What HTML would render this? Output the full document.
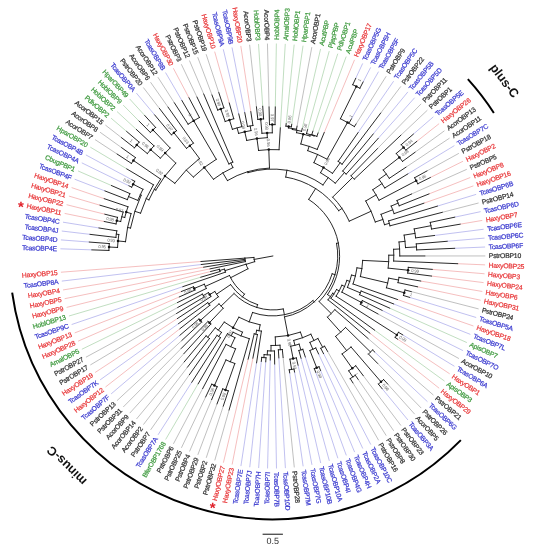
<!DOCTYPE html>
<html><head><meta charset="utf-8"><style>
html,body{margin:0;padding:0;background:#fff;}
svg{display:block;text-rendering:geometricPrecision;font-family:"Liberation Sans",Arial,sans-serif;}
</style></head><body>
<svg width="544" height="550" viewBox="0 0 544 550" font-size="6.8" stroke-width="0.22" letter-spacing="-0.2">
<line x1="91.90" y1="249.87" x2="60.42" y2="248.81" stroke="#9797e6" stroke-width="0.6"/>
<line x1="89.33" y1="242.06" x2="60.91" y2="239.90" stroke="#9797e6" stroke-width="0.6"/>
<line x1="90.08" y1="234.37" x2="61.77" y2="231.02" stroke="#9797e6" stroke-width="0.6"/>
<line x1="99.04" y1="227.99" x2="63.01" y2="222.18" stroke="#9797e6" stroke-width="0.6"/>
<line x1="104.29" y1="221.52" x2="64.61" y2="213.40" stroke="#ef9494" stroke-width="0.6"/>
<line x1="104.92" y1="214.24" x2="66.59" y2="204.70" stroke="#ef9494" stroke-width="0.6"/>
<line x1="100.10" y1="205.25" x2="68.92" y2="196.09" stroke="#ef9494" stroke-width="0.6"/>
<line x1="104.28" y1="198.69" x2="71.62" y2="187.58" stroke="#ef9494" stroke-width="0.6"/>
<line x1="104.97" y1="190.94" x2="74.67" y2="179.20" stroke="#9797e6" stroke-width="0.6"/>
<line x1="111.51" y1="185.56" x2="78.06" y2="170.95" stroke="#97c797" stroke-width="0.6"/>
<line x1="128.99" y1="185.86" x2="81.81" y2="162.85" stroke="#9797e6" stroke-width="0.6"/>
<line x1="132.06" y1="179.89" x2="85.89" y2="154.91" stroke="#9797e6" stroke-width="0.6"/>
<line x1="126.80" y1="168.92" x2="90.29" y2="147.15" stroke="#97c797" stroke-width="0.6"/>
<line x1="117.19" y1="154.10" x2="95.02" y2="139.59" stroke="#959595" stroke-width="0.6"/>
<line x1="121.61" y1="147.66" x2="100.07" y2="132.23" stroke="#959595" stroke-width="0.6"/>
<line x1="121.56" y1="137.71" x2="105.42" y2="125.08" stroke="#959595" stroke-width="0.6"/>
<line x1="126.66" y1="131.47" x2="111.06" y2="118.17" stroke="#97c797" stroke-width="0.6"/>
<line x1="136.42" y1="129.52" x2="116.99" y2="111.50" stroke="#97c797" stroke-width="0.6"/>
<line x1="139.03" y1="121.07" x2="123.19" y2="105.09" stroke="#97c797" stroke-width="0.6"/>
<line x1="144.81" y1="115.57" x2="129.66" y2="98.94" stroke="#97c797" stroke-width="0.6"/>
<line x1="154.67" y1="114.92" x2="136.38" y2="93.07" stroke="#9797e6" stroke-width="0.6"/>
<line x1="159.48" y1="108.50" x2="143.34" y2="87.49" stroke="#959595" stroke-width="0.6"/>
<line x1="168.08" y1="107.15" x2="150.53" y2="82.20" stroke="#959595" stroke-width="0.6"/>
<line x1="174.42" y1="102.88" x2="157.93" y2="77.22" stroke="#959595" stroke-width="0.6"/>
<line x1="181.94" y1="100.61" x2="165.54" y2="72.56" stroke="#9797e6" stroke-width="0.6"/>
<line x1="189.01" y1="97.82" x2="173.33" y2="68.22" stroke="#ef9494" stroke-width="0.6"/>
<line x1="197.02" y1="97.15" x2="181.30" y2="64.21" stroke="#959595" stroke-width="0.6"/>
<line x1="203.75" y1="94.11" x2="189.44" y2="60.54" stroke="#959595" stroke-width="0.6"/>
<line x1="212.02" y1="95.10" x2="197.71" y2="57.21" stroke="#959595" stroke-width="0.6"/>
<line x1="218.83" y1="92.69" x2="206.13" y2="54.23" stroke="#959595" stroke-width="0.6"/>
<line x1="229.29" y1="103.07" x2="214.66" y2="51.61" stroke="#ef9494" stroke-width="0.6"/>
<line x1="238.78" y1="114.02" x2="223.29" y2="49.35" stroke="#9797e6" stroke-width="0.6"/>
<line x1="244.77" y1="112.72" x2="232.01" y2="47.45" stroke="#9797e6" stroke-width="0.6"/>
<line x1="250.81" y1="111.67" x2="240.80" y2="45.92" stroke="#ef9494" stroke-width="0.6"/>
<line x1="256.45" y1="106.89" x2="249.64" y2="44.77" stroke="#959595" stroke-width="0.6"/>
<line x1="262.73" y1="106.34" x2="258.53" y2="43.98" stroke="#97c797" stroke-width="0.6"/>
<line x1="269.05" y1="107.05" x2="267.45" y2="43.57" stroke="#959595" stroke-width="0.6"/>
<line x1="275.30" y1="107.02" x2="276.37" y2="43.53" stroke="#97c797" stroke-width="0.6"/>
<line x1="280.34" y1="127.92" x2="285.28" y2="43.87" stroke="#97c797" stroke-width="0.6"/>
<line x1="286.18" y1="123.67" x2="294.18" y2="44.58" stroke="#97c797" stroke-width="0.6"/>
<line x1="291.72" y1="124.35" x2="303.04" y2="45.66" stroke="#97c797" stroke-width="0.6"/>
<line x1="297.05" y1="126.25" x2="311.84" y2="47.12" stroke="#959595" stroke-width="0.6"/>
<line x1="302.25" y1="128.35" x2="320.57" y2="48.94" stroke="#97c797" stroke-width="0.6"/>
<line x1="307.58" y1="129.70" x2="329.22" y2="51.13" stroke="#97c797" stroke-width="0.6"/>
<line x1="312.85" y1="131.27" x2="337.77" y2="53.68" stroke="#97c797" stroke-width="0.6"/>
<line x1="318.06" y1="133.07" x2="346.21" y2="56.58" stroke="#97c797" stroke-width="0.6"/>
<line x1="324.21" y1="132.58" x2="354.52" y2="59.84" stroke="#ef9494" stroke-width="0.6"/>
<line x1="355.70" y1="78.40" x2="362.68" y2="63.44" stroke="#9797e6" stroke-width="0.6"/>
<line x1="363.08" y1="82.03" x2="370.68" y2="67.39" stroke="#9797e6" stroke-width="0.6"/>
<line x1="351.40" y1="118.94" x2="378.52" y2="71.66" stroke="#9797e6" stroke-width="0.6"/>
<line x1="356.02" y1="124.05" x2="386.16" y2="76.26" stroke="#959595" stroke-width="0.6"/>
<line x1="358.08" y1="132.60" x2="393.61" y2="81.18" stroke="#9797e6" stroke-width="0.6"/>
<line x1="380.65" y1="113.14" x2="400.84" y2="86.41" stroke="#959595" stroke-width="0.6"/>
<line x1="373.21" y1="134.01" x2="407.85" y2="91.93" stroke="#9797e6" stroke-width="0.6"/>
<line x1="378.24" y1="138.33" x2="414.62" y2="97.74" stroke="#9797e6" stroke-width="0.6"/>
<line x1="377.51" y1="148.59" x2="421.13" y2="103.84" stroke="#959595" stroke-width="0.6"/>
<line x1="400.84" y1="135.24" x2="427.39" y2="110.20" stroke="#959595" stroke-width="0.6"/>
<line x1="413.35" y1="134.17" x2="433.38" y2="116.82" stroke="#9797e6" stroke-width="0.6"/>
<line x1="416.78" y1="141.43" x2="439.08" y2="123.68" stroke="#ef9494" stroke-width="0.6"/>
<line x1="415.00" y1="152.29" x2="444.48" y2="130.78" stroke="#959595" stroke-width="0.6"/>
<line x1="405.91" y1="167.22" x2="449.59" y2="138.10" stroke="#959595" stroke-width="0.6"/>
<line x1="407.81" y1="173.93" x2="454.38" y2="145.62" stroke="#9797e6" stroke-width="0.6"/>
<line x1="426.90" y1="170.97" x2="458.86" y2="153.34" stroke="#959595" stroke-width="0.6"/>
<line x1="430.33" y1="177.52" x2="463.00" y2="161.24" stroke="#ef9494" stroke-width="0.6"/>
<line x1="411.58" y1="193.99" x2="466.81" y2="169.31" stroke="#959595" stroke-width="0.6"/>
<line x1="428.93" y1="193.96" x2="470.28" y2="177.53" stroke="#ef9494" stroke-width="0.6"/>
<line x1="423.84" y1="203.21" x2="473.40" y2="185.89" stroke="#ef9494" stroke-width="0.6"/>
<line x1="437.41" y1="206.12" x2="476.17" y2="194.37" stroke="#9797e6" stroke-width="0.6"/>
<line x1="442.26" y1="212.33" x2="478.58" y2="202.97" stroke="#959595" stroke-width="0.6"/>
<line x1="454.70" y1="217.18" x2="480.62" y2="211.65" stroke="#9797e6" stroke-width="0.6"/>
<line x1="460.12" y1="224.18" x2="482.30" y2="220.42" stroke="#ef9494" stroke-width="0.6"/>
<line x1="434.50" y1="235.47" x2="483.61" y2="229.24" stroke="#9797e6" stroke-width="0.6"/>
<line x1="447.18" y1="241.27" x2="484.55" y2="238.11" stroke="#9797e6" stroke-width="0.6"/>
<line x1="454.64" y1="248.31" x2="485.11" y2="247.02" stroke="#9797e6" stroke-width="0.6"/>
<line x1="424.80" y1="255.96" x2="485.30" y2="255.94" stroke="#959595" stroke-width="0.6"/>
<line x1="457.64" y1="263.71" x2="485.12" y2="264.86" stroke="#ef9494" stroke-width="0.6"/>
<line x1="432.24" y1="269.38" x2="484.56" y2="273.77" stroke="#ef9494" stroke-width="0.6"/>
<line x1="431.54" y1="276.06" x2="483.62" y2="282.64" stroke="#ef9494" stroke-width="0.6"/>
<line x1="420.70" y1="281.04" x2="482.32" y2="291.47" stroke="#ef9494" stroke-width="0.6"/>
<line x1="417.56" y1="286.81" x2="480.65" y2="300.23" stroke="#ef9494" stroke-width="0.6"/>
<line x1="411.29" y1="291.61" x2="478.61" y2="308.92" stroke="#959595" stroke-width="0.6"/>
<line x1="409.68" y1="297.39" x2="476.20" y2="317.51" stroke="#9797e6" stroke-width="0.6"/>
<line x1="397.43" y1="299.48" x2="473.44" y2="326.00" stroke="#ef9494" stroke-width="0.6"/>
<line x1="393.64" y1="303.94" x2="470.33" y2="334.36" stroke="#9797e6" stroke-width="0.6"/>
<line x1="389.69" y1="308.15" x2="466.86" y2="342.58" stroke="#97c797" stroke-width="0.6"/>
<line x1="382.03" y1="310.34" x2="463.06" y2="350.65" stroke="#9797e6" stroke-width="0.6"/>
<line x1="377.90" y1="313.91" x2="458.92" y2="358.55" stroke="#959595" stroke-width="0.6"/>
<line x1="402.73" y1="334.88" x2="454.45" y2="366.28" stroke="#9797e6" stroke-width="0.6"/>
<line x1="397.64" y1="339.16" x2="449.66" y2="373.81" stroke="#ef9494" stroke-width="0.6"/>
<line x1="374.64" y1="330.19" x2="444.55" y2="381.13" stroke="#97c797" stroke-width="0.6"/>
<line x1="369.87" y1="333.16" x2="439.15" y2="388.23" stroke="#ef9494" stroke-width="0.6"/>
<line x1="368.06" y1="338.47" x2="433.45" y2="395.09" stroke="#959595" stroke-width="0.6"/>
<line x1="374.70" y1="352.00" x2="427.47" y2="401.71" stroke="#9797e6" stroke-width="0.6"/>
<line x1="377.57" y1="363.35" x2="421.22" y2="408.08" stroke="#959595" stroke-width="0.6"/>
<line x1="387.66" y1="384.03" x2="414.70" y2="414.18" stroke="#959595" stroke-width="0.6"/>
<line x1="382.18" y1="388.74" x2="407.94" y2="419.99" stroke="#9797e6" stroke-width="0.6"/>
<line x1="363.25" y1="375.66" x2="400.93" y2="425.52" stroke="#959595" stroke-width="0.6"/>
<line x1="358.14" y1="379.35" x2="393.70" y2="430.75" stroke="#959595" stroke-width="0.6"/>
<line x1="352.89" y1="382.83" x2="386.26" y2="435.67" stroke="#959595" stroke-width="0.6"/>
<line x1="327.58" y1="351.39" x2="378.62" y2="440.28" stroke="#959595" stroke-width="0.6"/>
<line x1="323.52" y1="353.61" x2="370.79" y2="444.56" stroke="#9797e6" stroke-width="0.6"/>
<line x1="318.54" y1="353.84" x2="362.79" y2="448.51" stroke="#9797e6" stroke-width="0.6"/>
<line x1="320.55" y1="370.44" x2="354.63" y2="452.11" stroke="#9797e6" stroke-width="0.6"/>
<line x1="315.70" y1="372.34" x2="346.32" y2="455.38" stroke="#9797e6" stroke-width="0.6"/>
<line x1="305.27" y1="356.91" x2="337.89" y2="458.29" stroke="#9797e6" stroke-width="0.6"/>
<line x1="301.00" y1="358.18" x2="329.34" y2="460.84" stroke="#9797e6" stroke-width="0.6"/>
<line x1="298.04" y1="365.12" x2="320.69" y2="463.03" stroke="#9797e6" stroke-width="0.6"/>
<line x1="294.54" y1="371.98" x2="311.96" y2="464.86" stroke="#9797e6" stroke-width="0.6"/>
<line x1="289.65" y1="372.79" x2="303.15" y2="466.32" stroke="#9797e6" stroke-width="0.6"/>
<line x1="283.12" y1="357.48" x2="294.30" y2="467.41" stroke="#959595" stroke-width="0.6"/>
<line x1="278.85" y1="357.82" x2="285.40" y2="468.13" stroke="#9797e6" stroke-width="0.6"/>
<line x1="274.67" y1="363.98" x2="276.49" y2="468.47" stroke="#9797e6" stroke-width="0.6"/>
<line x1="270.24" y1="359.97" x2="267.56" y2="468.44" stroke="#9797e6" stroke-width="0.6"/>
<line x1="265.74" y1="361.76" x2="258.65" y2="468.03" stroke="#9797e6" stroke-width="0.6"/>
<line x1="261.31" y1="361.38" x2="249.76" y2="467.25" stroke="#9797e6" stroke-width="0.6"/>
<line x1="256.59" y1="362.78" x2="240.91" y2="466.09" stroke="#9797e6" stroke-width="0.6"/>
<line x1="252.89" y1="358.08" x2="232.12" y2="464.57" stroke="#ef9494" stroke-width="0.6"/>
<line x1="248.16" y1="359.10" x2="223.40" y2="462.68" stroke="#ef9494" stroke-width="0.6"/>
<line x1="229.11" y1="409.92" x2="214.77" y2="460.42" stroke="#959595" stroke-width="0.6"/>
<line x1="223.31" y1="406.05" x2="206.24" y2="457.81" stroke="#959595" stroke-width="0.6"/>
<line x1="217.05" y1="403.84" x2="197.83" y2="454.83" stroke="#959595" stroke-width="0.6"/>
<line x1="211.68" y1="399.53" x2="189.54" y2="451.51" stroke="#959595" stroke-width="0.6"/>
<line x1="205.71" y1="396.84" x2="181.41" y2="447.84" stroke="#959595" stroke-width="0.6"/>
<line x1="202.66" y1="388.59" x2="173.44" y2="443.84" stroke="#959595" stroke-width="0.6"/>
<line x1="198.17" y1="383.80" x2="165.64" y2="439.50" stroke="#97c797" stroke-width="0.6"/>
<line x1="191.79" y1="382.24" x2="158.03" y2="434.84" stroke="#9797e6" stroke-width="0.6"/>
<line x1="189.43" y1="374.64" x2="150.62" y2="429.87" stroke="#959595" stroke-width="0.6"/>
<line x1="187.57" y1="367.07" x2="143.43" y2="424.58" stroke="#959595" stroke-width="0.6"/>
<line x1="184.27" y1="361.86" x2="136.47" y2="419.00" stroke="#959595" stroke-width="0.6"/>
<line x1="183.94" y1="353.61" x2="129.75" y2="413.14" stroke="#959595" stroke-width="0.6"/>
<line x1="181.33" y1="348.37" x2="123.28" y2="406.99" stroke="#959595" stroke-width="0.6"/>
<line x1="181.93" y1="340.37" x2="117.07" y2="400.58" stroke="#959595" stroke-width="0.6"/>
<line x1="179.99" y1="335.18" x2="111.14" y2="393.92" stroke="#9797e6" stroke-width="0.6"/>
<line x1="179.89" y1="328.75" x2="105.49" y2="387.01" stroke="#ef9494" stroke-width="0.6"/>
<line x1="178.55" y1="323.62" x2="100.14" y2="379.87" stroke="#9797e6" stroke-width="0.6"/>
<line x1="177.46" y1="318.51" x2="95.09" y2="372.51" stroke="#ef9494" stroke-width="0.6"/>
<line x1="176.64" y1="313.42" x2="90.35" y2="364.95" stroke="#959595" stroke-width="0.6"/>
<line x1="177.83" y1="307.43" x2="85.94" y2="357.19" stroke="#959595" stroke-width="0.6"/>
<line x1="177.55" y1="302.52" x2="81.86" y2="349.26" stroke="#97c797" stroke-width="0.6"/>
<line x1="179.35" y1="296.88" x2="78.11" y2="341.16" stroke="#ef9494" stroke-width="0.6"/>
<line x1="181.44" y1="291.47" x2="74.71" y2="332.91" stroke="#ef9494" stroke-width="0.6"/>
<line x1="182.88" y1="286.64" x2="71.65" y2="324.53" stroke="#9797e6" stroke-width="0.6"/>
<line x1="200.85" y1="277.19" x2="68.95" y2="316.03" stroke="#97c797" stroke-width="0.6"/>
<line x1="210.70" y1="271.49" x2="66.61" y2="307.42" stroke="#ef9494" stroke-width="0.6"/>
<line x1="210.11" y1="268.86" x2="64.64" y2="298.71" stroke="#ef9494" stroke-width="0.6"/>
<line x1="203.70" y1="267.18" x2="63.03" y2="289.94" stroke="#ef9494" stroke-width="0.6"/>
<line x1="201.30" y1="264.51" x2="61.79" y2="281.10" stroke="#9797e6" stroke-width="0.6"/>
<line x1="201.01" y1="261.50" x2="60.92" y2="272.22" stroke="#ef9494" stroke-width="0.6"/>
<path d="M272.80 256.00L254.11 259.43M254.67 261.67L246.08 264.36M247.90 268.81L230.57 277.74M244.47 294.13L242.39 296.94M257.57 304.67L256.68 307.54M283.27 308.98L284.43 314.86M313.01 300.53L314.35 302.02M332.19 273.80L335.06 274.66M336.56 243.37L338.52 242.98M308.71 199.43L315.68 188.46M285.76 177.06L286.89 170.15M247.96 172.62L247.67 171.66M227.44 180.59L222.81 172.88M213.42 179.30L204.24 167.44M193.36 177.05L186.26 170.00M174.82 183.31L164.94 175.98M155.80 190.07L154.32 189.23M148.93 199.85L146.20 198.62M140.57 213.15L134.86 211.30M130.52 228.05L127.58 227.47M125.49 241.69L118.03 240.96M117.53 247.47L109.05 247.01M108.89 250.45L91.90 249.87M109.27 243.57L89.33 242.06M118.80 234.48L116.32 234.13M115.90 237.42L90.08 234.37M116.81 230.85L99.04 227.99M131.03 213.53L126.24 212.09M124.72 217.51L121.82 216.75M120.66 221.53L116.76 220.64M116.05 223.93L104.29 221.52M117.53 217.37L104.92 214.24M123.13 212.02L100.10 205.25M127.95 206.74L104.28 198.69M141.17 195.19L140.26 194.77M137.81 200.38L128.56 196.58M127.35 199.62L104.97 190.94M129.84 193.56L111.51 185.56M142.95 189.26L133.17 184.23M131.69 187.18L128.99 185.86M134.70 181.31L132.06 179.89M153.42 184.80L126.80 168.92M160.61 179.12L133.39 160.47M131.42 163.42L117.19 154.10M135.43 157.56L121.61 147.66M175.78 163.14L165.16 152.98M160.41 158.17L150.61 149.64M147.32 153.54L136.78 144.94M134.48 147.82L121.56 137.71M139.15 142.11L126.66 131.47M154.02 145.84L136.42 129.52M170.14 148.01L152.92 129.89M150.30 132.43L139.03 121.07M155.59 127.40L144.81 115.57M199.49 158.48L189.88 145.69M186.45 148.36L173.93 132.76M171.37 134.86L154.67 114.92M176.54 130.71L159.48 108.50M193.39 143.13L168.08 107.15M216.27 159.32L193.70 120.73M188.09 124.17L174.42 102.88M193.70 120.73L181.94 100.61M199.45 117.53L189.01 97.82M232.88 167.59L230.82 163.04M228.88 163.94L197.02 97.15M232.78 162.18L203.75 94.11M269.49 168.06L268.79 149.58M258.56 150.46L256.95 138.56M246.70 140.41L244.77 131.83M238.61 133.38L237.08 127.89M232.40 129.29L229.45 120.04M225.19 121.48L220.75 108.94M217.68 110.06L212.02 95.10M223.85 107.88L218.83 92.69M233.75 118.75L229.29 103.07M241.81 126.66L238.78 114.02M250.99 130.58L250.18 125.95M247.46 126.46L244.77 112.72M252.92 125.51L250.81 111.67M267.33 137.63L267.11 132.93M261.95 133.28L260.70 119.13M257.83 119.42L256.45 106.89M263.57 118.91L262.73 106.34M272.28 132.80L272.25 124.60M269.49 124.64L269.05 107.05M275.01 124.62L275.30 107.02M279.06 149.68L280.34 127.92M323.00 184.94L328.19 177.59M320.53 172.71L323.51 167.50M313.93 162.66L317.56 154.42M307.71 150.63L309.12 146.36M300.83 143.95L303.28 134.15M296.52 132.66L296.98 130.30M292.34 129.50L292.49 128.51M288.47 127.96L288.65 126.47M285.93 126.16L286.18 123.67M291.37 126.83L291.72 124.35M296.50 129.20L297.05 126.25M301.58 131.28L302.25 128.35M309.95 136.02L310.36 134.68M306.52 133.56L307.58 129.70M314.16 135.92L314.32 135.45M311.78 134.61L312.85 131.27M316.85 136.35L318.06 133.07M317.22 149.38L324.21 132.58M327.01 159.14L347.52 122.49M340.41 118.75L356.32 86.45M352.74 84.74L355.70 78.40M359.86 88.25L363.08 82.03M348.92 123.28L351.40 118.94M354.42 126.59L356.02 124.05M332.54 173.32L340.15 162.79M338.18 161.39L358.08 132.60M342.09 164.22L380.65 113.14M335.35 183.18L344.47 172.56M342.71 171.07L373.21 134.01M346.21 174.08L378.24 138.33M338.72 210.68L342.02 208.41M332.69 197.10L352.65 177.46M350.98 175.80L377.51 148.59M354.28 179.15L400.84 135.24M349.24 221.18L371.08 211.23M365.74 201.00L376.07 194.88M372.81 189.68L381.98 183.60M379.04 179.36L386.34 174.10M383.26 169.98L399.43 157.38M396.26 153.45L403.57 147.38M401.26 144.65L413.35 134.17M405.82 150.14L416.78 141.43M402.47 161.42L415.00 152.29M389.27 178.32L405.91 167.22M384.74 187.95L407.81 173.93M379.06 200.25L416.25 180.73M414.64 177.74L426.90 170.97M417.80 183.76L430.33 177.52M375.30 221.98L382.89 219.46M381.05 214.30L392.71 209.81M391.20 206.05L398.11 203.14M396.97 200.52L411.58 193.99M399.19 205.78L428.93 193.96M394.11 213.61L423.84 203.21M384.50 224.70L389.31 223.35M388.60 220.91L437.41 206.12M389.97 225.80L442.26 212.33M327.56 294.61L330.42 296.62M332.66 293.24L333.93 294.04M336.55 289.47L339.20 290.87M341.87 285.23L344.63 286.40M346.88 280.40L349.73 281.34M351.52 275.08L355.41 276.02M356.97 267.84L361.92 268.54M362.69 260.40L388.66 261.67M388.80 255.21L393.80 255.17M393.61 249.30L399.61 248.97M399.03 241.99L404.99 241.33M404.15 235.11L415.01 233.38M414.23 228.91L430.93 225.71M430.25 222.40L454.70 217.18M431.53 229.04L460.12 224.18M415.65 237.87L434.50 235.47M405.53 247.59L416.51 246.90M416.29 243.88L447.18 241.27M416.67 249.91L454.64 248.31M399.80 255.96L424.80 255.96M393.69 261.05L457.64 263.71M388.16 268.12L408.06 270.21M408.32 267.37L432.24 269.38M407.73 273.05L431.54 276.06M360.42 276.58L387.67 282.98M388.71 278.13L398.53 280.01M399.00 277.36L420.70 281.04M398.00 282.64L417.56 286.81M386.44 287.78L404.26 292.76M405.00 289.99L411.29 291.61M403.46 295.51L409.68 297.39M353.06 284.00L397.43 299.48M347.45 287.44L360.35 292.88M361.11 291.03L393.64 303.94M359.56 294.71L389.69 308.15M341.89 292.20L361.38 302.41M362.33 300.54L382.03 310.34M360.38 304.26L377.90 313.91M336.08 296.26L396.83 334.91M398.46 332.29L402.73 334.88M395.14 337.49L397.64 339.16M330.99 298.40L374.64 330.19M327.99 299.87L369.87 333.16M319.11 301.62L331.22 313.55M334.79 309.67L368.06 338.47M327.40 317.18L340.71 332.10M345.56 327.49L370.52 352.02M372.52 349.94L374.70 352.00M368.49 354.05L377.57 363.35M335.58 336.39L346.66 350.58M351.04 346.99L381.03 381.86M383.65 379.56L387.66 384.03M378.37 384.11L382.18 388.74M342.11 353.96L352.27 368.33M355.77 365.77L363.25 375.66M348.70 370.78L352.78 376.95M355.30 375.24L358.14 379.35M350.22 378.60L352.89 382.83M284.46 316.89L288.04 335.55M300.43 332.14L302.47 337.78M310.88 334.22L313.94 340.52M317.89 338.48L322.68 347.26M324.59 346.19L327.58 351.39M320.76 348.28L323.52 353.61M309.91 342.37L312.87 349.26M315.78 347.95L318.54 353.84M309.91 350.47L316.67 367.69M319.01 366.75L320.55 370.44M314.32 368.59L315.70 372.34M293.74 340.44L294.94 345.30M299.13 344.15L300.85 349.90M302.82 349.29L305.27 356.91M298.87 350.47L301.00 358.18M290.70 346.24L293.15 358.60M296.37 357.91L298.04 365.12M289.91 359.19L291.61 369.45M293.99 369.03L294.54 371.98M289.23 369.82L289.65 372.79M275.27 336.96L275.53 345.46M279.98 345.21L280.34 349.70M282.31 349.52L283.12 357.48M278.37 349.83L278.85 357.82M271.06 345.48L270.96 350.98M274.45 350.99L274.67 363.98M267.47 350.85L267.25 354.84M270.36 354.97L270.24 359.97M264.14 354.62L263.87 357.61M266.01 357.77L265.74 361.76M261.74 357.40L261.31 361.38M252.55 312.48L249.18 321.89M260.12 324.84L259.04 330.74M261.40 331.14L256.59 362.78M256.69 330.27L255.84 334.18M257.49 334.52L252.89 358.08M254.20 333.81L248.16 359.10M238.86 317.22L233.04 327.71M242.46 332.18L240.98 335.90M249.31 338.73L229.11 409.92M232.99 332.23L231.14 335.77M234.95 337.65L230.74 346.73M235.56 348.81L230.35 361.80M234.83 363.49L225.50 389.89M228.32 390.85L223.31 406.05M222.70 388.87L217.05 403.84M225.94 359.93L214.43 385.45M217.17 386.65L211.68 399.53M211.73 384.20L205.71 396.84M226.04 344.39L202.66 388.59M227.41 333.72L198.17 383.80M224.26 322.09L218.34 330.15M221.50 332.37L218.71 336.52M220.41 337.64L191.79 382.24M217.03 335.36L189.43 374.64M215.27 327.79L207.77 337.16M209.49 338.51L187.57 367.07M206.08 335.78L184.27 361.86M234.01 293.56L221.07 306.08M223.22 308.21L209.45 322.72M210.87 324.03L183.94 353.61M208.06 321.37L181.33 348.37M219.02 303.87L200.34 320.49M201.71 322.00L181.93 340.37M199.01 318.96L179.99 335.18M230.60 284.63L216.53 294.17M218.39 296.79L208.79 303.99M209.81 305.32L179.89 328.75M207.80 302.63L178.55 323.62M214.79 291.47L209.67 294.60M210.91 296.57L177.46 318.51M208.48 292.60L203.27 295.57M204.11 297.02L176.64 313.42M202.45 294.10L177.83 307.43M229.48 275.49L205.32 286.37M206.31 288.48L177.55 302.52M204.39 284.23L194.23 288.42M194.92 290.07L179.35 296.88M193.56 286.77L181.44 291.47M246.02 264.19L224.99 270.63M225.47 272.12L182.88 286.64M224.55 269.11L219.73 270.43M220.04 271.54L200.85 277.19M219.43 269.31L210.70 271.49M253.86 257.45L244.88 258.14M245.37 261.63L210.11 268.86M245.16 260.47L203.70 267.18M245.00 259.31L201.30 264.51M244.88 258.14L201.01 261.50M254.67 261.67A19.0 19.0 0 0 1 253.86 257.45M247.90 268.81A28.0 28.0 0 0 1 246.02 264.19M244.47 294.13A47.5 47.5 0 0 1 229.48 275.49M257.57 304.67A51.0 51.0 0 0 1 230.60 284.63M283.27 308.98A54.0 54.0 0 0 1 234.01 293.56M313.01 300.53A60.0 60.0 0 0 1 252.55 312.48M332.19 273.80A62.0 62.0 0 0 1 284.46 316.89M336.56 243.37A65.0 65.0 0 0 1 319.11 301.62M308.71 199.43A67.0 67.0 0 0 1 327.56 294.61M285.76 177.06A80.0 80.0 0 0 1 338.72 210.68M247.96 172.62A87.0 87.0 0 0 1 323.00 184.94M227.44 180.59A88.0 88.0 0 0 1 269.49 168.06M213.42 179.30A97.0 97.0 0 0 1 232.88 167.59M193.36 177.05A112.0 112.0 0 0 1 216.27 159.32M174.82 183.31A122.0 122.0 0 0 1 199.49 158.48M155.80 190.07A134.3 134.3 0 0 1 175.78 163.14M148.93 199.85A136.0 136.0 0 0 1 160.61 179.12M140.57 213.15A139.0 139.0 0 0 1 153.42 184.80M130.52 228.05A145.0 145.0 0 0 1 141.17 195.19M125.49 241.69A148.0 148.0 0 0 1 131.03 213.53M117.53 247.47A155.5 155.5 0 0 1 118.80 234.48M108.89 250.45A164.0 164.0 0 0 1 109.27 243.57M115.90 237.42A158.0 158.0 0 0 1 116.81 230.85M124.72 217.51A153.0 153.0 0 0 1 127.95 206.74M120.66 221.53A156.0 156.0 0 0 1 123.13 212.02M116.05 223.93A160.0 160.0 0 0 1 117.53 217.37M137.81 200.38A146.0 146.0 0 0 1 142.95 189.26M127.35 199.62A156.0 156.0 0 0 1 129.84 193.56M131.69 187.18A157.0 157.0 0 0 1 134.70 181.31M131.42 163.42A169.0 169.0 0 0 1 135.43 157.56M160.41 158.17A149.0 149.0 0 0 1 170.14 148.01M147.32 153.54A162.0 162.0 0 0 1 154.02 145.84M134.48 147.82A175.6 175.6 0 0 1 139.15 142.11M150.30 132.43A174.0 174.0 0 0 1 155.59 127.40M186.45 148.36A138.0 138.0 0 0 1 193.39 143.13M171.37 134.86A158.0 158.0 0 0 1 176.54 130.71M188.09 124.17A156.7 156.7 0 0 1 199.45 117.53M228.88 163.94A102.0 102.0 0 0 1 232.78 162.18M258.56 150.46A106.5 106.5 0 0 1 279.06 149.68M246.70 140.41A118.5 118.5 0 0 1 267.33 137.63M238.61 133.38A127.3 127.3 0 0 1 250.99 130.58M232.40 129.29A133.0 133.0 0 0 1 241.81 126.66M225.19 121.48A142.7 142.7 0 0 1 233.75 118.75M217.68 110.06A156.0 156.0 0 0 1 223.85 107.88M247.46 126.46A132.0 132.0 0 0 1 252.92 125.51M261.95 133.28A123.2 123.2 0 0 1 272.28 132.80M257.83 119.42A137.4 137.4 0 0 1 263.57 118.91M269.49 124.64A131.4 131.4 0 0 1 275.01 124.62M320.53 172.71A96.0 96.0 0 0 1 335.35 183.18M313.93 162.66A102.0 102.0 0 0 1 332.54 173.32M307.71 150.63A111.0 111.0 0 0 1 327.01 159.14M300.83 143.95A115.5 115.5 0 0 1 317.22 149.38M296.52 132.66A125.6 125.6 0 0 1 309.95 136.02M292.34 129.50A128.0 128.0 0 0 1 301.58 131.28M288.47 127.96A129.0 129.0 0 0 1 296.50 129.20M285.93 126.16A130.5 130.5 0 0 1 291.37 126.83M306.52 133.56A127.0 127.0 0 0 1 314.16 135.92M311.78 134.61A127.5 127.5 0 0 1 316.85 136.35M340.41 118.75A153.0 153.0 0 0 1 354.42 126.59M352.74 84.74A189.0 189.0 0 0 1 359.86 88.25M338.18 161.39A115.0 115.0 0 0 1 342.09 164.22M342.71 171.07A110.0 110.0 0 0 1 346.21 174.08M332.69 197.10A84.0 84.0 0 0 1 349.24 221.18M350.98 175.80A112.0 112.0 0 0 1 354.28 179.15M365.74 201.00A108.0 108.0 0 0 1 375.30 221.98M372.81 189.68A120.0 120.0 0 0 1 379.06 200.25M379.04 179.36A131.0 131.0 0 0 1 384.74 187.95M383.26 169.98A140.0 140.0 0 0 1 389.27 178.32M396.26 153.45A160.5 160.5 0 0 1 402.47 161.42M401.26 144.65A170.0 170.0 0 0 1 405.82 150.14M414.64 177.74A162.0 162.0 0 0 1 417.80 183.76M381.05 214.30A116.0 116.0 0 0 1 384.50 224.70M391.20 206.05A128.5 128.5 0 0 1 394.11 213.61M396.97 200.52A136.0 136.0 0 0 1 399.19 205.78M388.60 220.91A121.0 121.0 0 0 1 389.97 225.80M332.66 293.24A70.5 70.5 0 0 1 327.99 299.87M336.55 289.47A72.0 72.0 0 0 1 330.99 298.40M341.87 285.23A75.0 75.0 0 0 1 336.08 296.26M346.88 280.40A78.0 78.0 0 0 1 341.89 292.20M351.52 275.08A81.0 81.0 0 0 1 347.45 287.44M356.97 267.84A85.0 85.0 0 0 1 353.06 284.00M362.69 260.40A90.0 90.0 0 0 1 360.42 276.58M388.80 255.21A116.0 116.0 0 0 1 388.16 268.12M393.61 249.30A121.0 121.0 0 0 1 393.69 261.05M399.03 241.99A127.0 127.0 0 0 1 399.80 255.96M404.15 235.11A133.0 133.0 0 0 1 405.53 247.59M414.23 228.91A144.0 144.0 0 0 1 415.65 237.87M430.25 222.40A161.0 161.0 0 0 1 431.53 229.04M416.29 243.88A144.0 144.0 0 0 1 416.67 249.91M408.32 267.37A136.0 136.0 0 0 1 407.73 273.05M388.71 278.13A118.0 118.0 0 0 1 386.44 287.78M399.00 277.36A128.0 128.0 0 0 1 398.00 282.64M405.00 289.99A136.5 136.5 0 0 1 403.46 295.51M361.11 291.03A95.0 95.0 0 0 1 359.56 294.71M362.33 300.54A100.0 100.0 0 0 1 360.38 304.26M398.46 332.29A147.0 147.0 0 0 1 395.14 337.49M334.79 309.67A82.0 82.0 0 0 1 327.40 317.18M345.56 327.49A102.0 102.0 0 0 1 335.58 336.39M372.52 349.94A137.0 137.0 0 0 1 368.49 354.05M351.04 346.99A120.0 120.0 0 0 1 342.11 353.96M383.65 379.56A166.0 166.0 0 0 1 378.37 384.11M355.77 365.77A137.6 137.6 0 0 1 348.70 370.78M355.30 375.24A145.0 145.0 0 0 1 350.22 378.60M300.43 332.14A81.0 81.0 0 0 1 275.27 336.96M310.88 334.22A87.0 87.0 0 0 1 293.74 340.44M317.89 338.48A94.0 94.0 0 0 1 309.91 342.37M324.59 346.19A104.0 104.0 0 0 1 320.76 348.28M315.78 347.95A101.5 101.5 0 0 1 309.91 350.47M319.01 366.75A120.0 120.0 0 0 1 314.32 368.59M299.13 344.15A92.0 92.0 0 0 1 290.70 346.24M302.82 349.29A98.0 98.0 0 0 1 298.87 350.47M296.37 357.91A104.6 104.6 0 0 1 289.91 359.19M293.99 369.03A115.0 115.0 0 0 1 289.23 369.82M279.98 345.21A89.5 89.5 0 0 1 271.06 345.48M282.31 349.52A94.0 94.0 0 0 1 278.37 349.83M274.45 350.99A95.0 95.0 0 0 1 267.47 350.85M270.36 354.97A99.0 99.0 0 0 1 264.14 354.62M266.01 357.77A102.0 102.0 0 0 1 261.74 357.40M260.12 324.84A70.0 70.0 0 0 1 238.86 317.22M261.40 331.14A76.0 76.0 0 0 1 256.69 330.27M257.49 334.52A80.0 80.0 0 0 1 254.20 333.81M242.46 332.18A82.0 82.0 0 0 1 224.26 322.09M249.31 338.73A86.0 86.0 0 0 1 232.99 332.23M234.95 337.65A90.0 90.0 0 0 1 227.41 333.72M235.56 348.81A100.0 100.0 0 0 1 226.04 344.39M234.83 363.49A114.0 114.0 0 0 1 225.94 359.93M228.32 390.85A142.0 142.0 0 0 1 222.70 388.87M217.17 386.65A142.0 142.0 0 0 1 211.73 384.20M221.50 332.37A92.0 92.0 0 0 1 215.27 327.79M220.41 337.64A97.0 97.0 0 0 1 217.03 335.36M209.49 338.51A104.0 104.0 0 0 1 206.08 335.78M223.22 308.21A72.0 72.0 0 0 1 219.02 303.87M210.87 324.03A92.0 92.0 0 0 1 208.06 321.37M201.71 322.00A97.0 97.0 0 0 1 199.01 318.96M218.39 296.79A68.0 68.0 0 0 1 214.79 291.47M209.81 305.32A80.0 80.0 0 0 1 207.80 302.63M210.91 296.57A74.0 74.0 0 0 1 208.48 292.60M204.11 297.02A80.0 80.0 0 0 1 202.45 294.10M206.31 288.48A74.0 74.0 0 0 1 204.39 284.23M194.92 290.07A85.0 85.0 0 0 1 193.56 286.77M225.47 272.12A50.0 50.0 0 0 1 224.55 269.11M220.04 271.54A55.0 55.0 0 0 1 219.43 269.31M245.37 261.63A28.0 28.0 0 0 1 244.88 258.14" fill="none" stroke="#111" stroke-width="0.9" stroke-linecap="square"/><g fill="#111"><circle cx="204.24" cy="167.44" r="1.25"/><circle cx="164.94" cy="175.98" r="1.25"/><circle cx="118.03" cy="240.96" r="1.25"/><circle cx="109.05" cy="247.01" r="1.25"/><circle cx="126.24" cy="212.09" r="1.25"/><circle cx="116.76" cy="220.64" r="1.25"/><circle cx="133.17" cy="184.23" r="1.25"/><circle cx="133.39" cy="160.47" r="1.25"/><circle cx="165.16" cy="152.98" r="1.25"/><circle cx="150.61" cy="149.64" r="1.25"/><circle cx="136.78" cy="144.94" r="1.25"/><circle cx="152.92" cy="129.89" r="1.25"/><circle cx="189.88" cy="145.69" r="1.25"/><circle cx="173.93" cy="132.76" r="1.25"/><circle cx="193.70" cy="120.73" r="1.25"/><circle cx="268.79" cy="149.58" r="1.25"/><circle cx="256.95" cy="138.56" r="1.25"/><circle cx="244.77" cy="131.83" r="1.25"/><circle cx="229.45" cy="120.04" r="1.25"/><circle cx="220.75" cy="108.94" r="1.25"/><circle cx="267.11" cy="132.93" r="1.25"/><circle cx="260.70" cy="119.13" r="1.25"/><circle cx="272.25" cy="124.60" r="1.25"/><circle cx="323.51" cy="167.50" r="1.25"/><circle cx="303.28" cy="134.15" r="1.25"/><circle cx="288.65" cy="126.47" r="1.25"/><circle cx="347.52" cy="122.49" r="1.25"/><circle cx="356.32" cy="86.45" r="1.25"/><circle cx="399.43" cy="157.38" r="1.25"/><circle cx="403.57" cy="147.38" r="1.25"/><circle cx="416.25" cy="180.73" r="1.25"/><circle cx="408.06" cy="270.21" r="1.25"/><circle cx="404.26" cy="292.76" r="1.25"/><circle cx="361.38" cy="302.41" r="1.25"/><circle cx="396.83" cy="334.91" r="1.25"/><circle cx="381.03" cy="381.86" r="1.25"/><circle cx="352.27" cy="368.33" r="1.25"/><circle cx="288.04" cy="335.55" r="1.25"/><circle cx="316.67" cy="367.69" r="1.25"/><circle cx="293.15" cy="358.60" r="1.25"/><circle cx="233.04" cy="327.71" r="1.25"/><circle cx="225.50" cy="389.89" r="1.25"/><circle cx="214.43" cy="385.45" r="1.25"/><circle cx="209.45" cy="322.72" r="1.25"/><circle cx="200.34" cy="320.49" r="1.25"/><circle cx="209.67" cy="294.60" r="1.25"/><circle cx="194.23" cy="288.42" r="1.25"/></g><g fill="#6a6a6a" font-size="4.3" stroke="none"><text transform="translate(199.95 161.91) rotate(412.25)" text-anchor="middle" dy="0.35em">0.82</text><text transform="translate(159.32 171.81) rotate(396.57)" text-anchor="middle" dy="0.35em">0.82</text><text transform="translate(111.06 240.29) rotate(365.55)" text-anchor="middle" dy="0.35em">0.93</text><text transform="translate(102.06 246.62) rotate(363.14)" text-anchor="middle" dy="0.35em">0.95</text><text transform="translate(119.53 210.08) rotate(376.68)" text-anchor="middle" dy="0.35em">0.97</text><text transform="translate(109.93 219.10) rotate(372.77)" text-anchor="middle" dy="0.35em">0.98</text><text transform="translate(126.94 181.03) rotate(387.20)" text-anchor="middle" dy="0.35em">0.92</text><text transform="translate(127.62 156.51) rotate(394.42)" text-anchor="middle" dy="0.35em">1</text><text transform="translate(160.10 148.14) rotate(403.74)" text-anchor="middle" dy="0.35em">0.99</text><text transform="translate(145.33 145.04) rotate(401.04)" text-anchor="middle" dy="0.35em">0.96</text><text transform="translate(131.36 140.51) rotate(399.23)" text-anchor="middle" dy="0.35em">1</text><text transform="translate(148.10 124.81) rotate(406.45)" text-anchor="middle" dy="0.35em">1</text><text transform="translate(185.67 140.10) rotate(413.07)" text-anchor="middle" dy="0.35em">0.83</text><text transform="translate(169.55 127.30) rotate(411.26)" text-anchor="middle" dy="0.35em">0.97</text><text transform="translate(190.17 114.69) rotate(419.68)" text-anchor="middle" dy="0.35em">1</text><text transform="translate(268.53 142.58) rotate(447.84)" text-anchor="middle" dy="0.35em">0.96</text><text transform="translate(256.02 131.63) rotate(442.32)" text-anchor="middle" dy="0.35em">0.96</text><text transform="translate(243.22 125.00) rotate(437.28)" text-anchor="middle" dy="0.35em">0.98</text><text transform="translate(227.32 113.37) rotate(432.32)" text-anchor="middle" dy="0.35em">0.98</text><text transform="translate(218.42 102.34) rotate(430.51)" text-anchor="middle" dy="0.35em">0.98</text><text transform="translate(266.79 125.94) rotate(447.35)" text-anchor="middle" dy="0.35em">0.98</text><text transform="translate(260.08 112.16) rotate(444.95)" text-anchor="middle" dy="0.35em">0.98</text><text transform="translate(272.22 117.60) rotate(449.76)" text-anchor="middle" dy="0.35em">0.97</text><text transform="translate(327.00 161.43) rotate(299.82)" text-anchor="middle" dy="0.35em">0.94</text><text transform="translate(304.98 127.36) rotate(284.04)" text-anchor="middle" dy="0.35em">0.98</text><text transform="translate(289.50 119.52) rotate(276.98)" text-anchor="middle" dy="0.35em">0.96</text><text transform="translate(350.94 116.38) rotate(299.23)" text-anchor="middle" dy="0.35em">1</text><text transform="translate(359.41 80.18) rotate(296.23)" text-anchor="middle" dy="0.35em">1</text><text transform="translate(404.95 153.08) rotate(322.09)" text-anchor="middle" dy="0.35em">0.98</text><text transform="translate(408.95 142.90) rotate(320.28)" text-anchor="middle" dy="0.35em">0.94</text><text transform="translate(422.45 177.48) rotate(332.31)" text-anchor="middle" dy="0.35em">0.96</text><text transform="translate(415.02 270.95) rotate(6.00)" text-anchor="middle" dy="0.35em">0.99</text><text transform="translate(411.00 294.65) rotate(15.62)" text-anchor="middle" dy="0.35em">1</text><text transform="translate(367.58 305.66) rotate(27.65)" text-anchor="middle" dy="0.35em">1</text><text transform="translate(402.73 338.66) rotate(32.47)" text-anchor="middle" dy="0.35em">0.99</text><text transform="translate(385.60 387.17) rotate(49.31)" text-anchor="middle" dy="0.35em">0.98</text><text transform="translate(356.32 374.04) rotate(54.72)" text-anchor="middle" dy="0.35em">1</text><text transform="translate(289.36 342.43) rotate(79.16)" text-anchor="middle" dy="0.35em">0.98</text><text transform="translate(319.23 374.21) rotate(68.56)" text-anchor="middle" dy="0.35em">0.98</text><text transform="translate(294.51 365.47) rotate(78.78)" text-anchor="middle" dy="0.35em">0.92</text><text transform="translate(229.64 333.84) rotate(299.01)" text-anchor="middle" dy="0.35em">0.97</text><text transform="translate(223.17 396.49) rotate(289.46)" text-anchor="middle" dy="0.35em">0.98</text><text transform="translate(211.56 391.83) rotate(294.27)" text-anchor="middle" dy="0.35em">0.98</text><text transform="translate(204.63 327.79) rotate(313.52)" text-anchor="middle" dy="0.35em">0.98</text><text transform="translate(195.11 325.14) rotate(318.33)" text-anchor="middle" dy="0.35em">0.98</text><text transform="translate(203.70 298.26) rotate(328.55)" text-anchor="middle" dy="0.35em">0.98</text><text transform="translate(187.76 291.09) rotate(337.58)" text-anchor="middle" dy="0.35em">0.98</text></g>
<text transform="translate(56.92 248.69) rotate(361.94)" text-anchor="end" dy="0.36em" fill="#3a3acf" stroke="#3a3acf">TcasOBP4E</text>
<text transform="translate(57.42 239.63) rotate(364.35)" text-anchor="end" dy="0.36em" fill="#3a3acf" stroke="#3a3acf">TcasOBP4D</text>
<text transform="translate(58.30 230.60) rotate(366.75)" text-anchor="end" dy="0.36em" fill="#3a3acf" stroke="#3a3acf">TcasOBP4J</text>
<text transform="translate(59.55 221.62) rotate(369.16)" text-anchor="end" dy="0.36em" fill="#3a3acf" stroke="#3a3acf">TcasOBP4C</text>
<text transform="translate(61.18 212.70) rotate(371.56)" text-anchor="end" dy="0.36em" fill="#e8383a" stroke="#e8383a">HaxyOBP11</text>
<text transform="translate(63.19 203.85) rotate(373.97)" text-anchor="end" dy="0.36em" fill="#e8383a" stroke="#e8383a">HaxyOBP22</text>
<text transform="translate(65.56 195.10) rotate(376.38)" text-anchor="end" dy="0.36em" fill="#e8383a" stroke="#e8383a">HaxyOBP21</text>
<text transform="translate(68.30 186.45) rotate(378.78)" text-anchor="end" dy="0.36em" fill="#e8383a" stroke="#e8383a">HaxyOBP14</text>
<text transform="translate(71.40 177.93) rotate(381.19)" text-anchor="end" dy="0.36em" fill="#3a3acf" stroke="#3a3acf">TcasOBP4F</text>
<text transform="translate(74.86 169.55) rotate(383.59)" text-anchor="end" dy="0.36em" fill="#3f9a3f" stroke="#3f9a3f">CbugPBP1</text>
<text transform="translate(78.66 161.31) rotate(386.00)" text-anchor="end" dy="0.36em" fill="#3a3acf" stroke="#3a3acf">TcasOBP4A</text>
<text transform="translate(82.81 153.25) rotate(388.41)" text-anchor="end" dy="0.36em" fill="#3a3acf" stroke="#3a3acf">TcasOBP4B</text>
<text transform="translate(87.29 145.36) rotate(390.81)" text-anchor="end" dy="0.36em" fill="#3f9a3f" stroke="#3f9a3f">HparOBP20</text>
<text transform="translate(92.10 137.67) rotate(393.22)" text-anchor="end" dy="0.36em" fill="#303030" stroke="#303030">AcorOBP7</text>
<text transform="translate(97.22 130.19) rotate(395.62)" text-anchor="end" dy="0.36em" fill="#303030" stroke="#303030">AcorOBP8</text>
<text transform="translate(102.66 122.93) rotate(398.03)" text-anchor="end" dy="0.36em" fill="#303030" stroke="#303030">AcorOBP15</text>
<text transform="translate(108.40 115.90) rotate(400.44)" text-anchor="end" dy="0.36em" fill="#3f9a3f" stroke="#3f9a3f">PdivOBP2</text>
<text transform="translate(114.42 109.12) rotate(402.84)" text-anchor="end" dy="0.36em" fill="#3f9a3f" stroke="#3f9a3f">HoblOBP2</text>
<text transform="translate(120.73 102.61) rotate(405.25)" text-anchor="end" dy="0.36em" fill="#3f9a3f" stroke="#3f9a3f">HoblOBP9</text>
<text transform="translate(127.30 96.36) rotate(407.65)" text-anchor="end" dy="0.36em" fill="#3f9a3f" stroke="#3f9a3f">HparOBP49</text>
<text transform="translate(134.13 90.39) rotate(410.06)" text-anchor="end" dy="0.36em" fill="#3a3acf" stroke="#3a3acf">TcasOBP0A</text>
<text transform="translate(141.21 84.71) rotate(412.47)" text-anchor="end" dy="0.36em" fill="#303030" stroke="#303030">PstrOBP20</text>
<text transform="translate(148.51 79.34) rotate(414.87)" text-anchor="end" dy="0.36em" fill="#303030" stroke="#303030">AcorOBP6</text>
<text transform="translate(156.04 74.28) rotate(417.28)" text-anchor="end" dy="0.36em" fill="#303030" stroke="#303030">AcorOBP12</text>
<text transform="translate(163.77 69.54) rotate(419.68)" text-anchor="end" dy="0.36em" fill="#3a3acf" stroke="#3a3acf">TcasOBP8B</text>
<text transform="translate(171.69 65.12) rotate(422.09)" text-anchor="end" dy="0.36em" fill="#e8383a" stroke="#e8383a">HaxyOBP30</text>
<text transform="translate(179.80 61.05) rotate(424.50)" text-anchor="end" dy="0.36em" fill="#303030" stroke="#303030">PstrOBP3</text>
<text transform="translate(188.06 57.32) rotate(426.90)" text-anchor="end" dy="0.36em" fill="#303030" stroke="#303030">PstrOBP12</text>
<text transform="translate(196.48 53.93) rotate(429.31)" text-anchor="end" dy="0.36em" fill="#303030" stroke="#303030">PstrOBP15</text>
<text transform="translate(205.03 50.91) rotate(431.71)" text-anchor="end" dy="0.36em" fill="#303030" stroke="#303030">PstrOBP19</text>
<text transform="translate(213.70 48.24) rotate(434.12)" text-anchor="end" dy="0.36em" fill="#e8383a" stroke="#e8383a">HaxyOBP10</text>
<text transform="translate(222.47 45.95) rotate(436.53)" text-anchor="end" dy="0.36em" fill="#3a3acf" stroke="#3a3acf">TcasOBP9A</text>
<text transform="translate(231.33 44.02) rotate(438.93)" text-anchor="end" dy="0.36em" fill="#3a3acf" stroke="#3a3acf">TcasOBP9B</text>
<text transform="translate(240.27 42.46) rotate(441.34)" text-anchor="end" dy="0.36em" fill="#e8383a" stroke="#e8383a">HaxyOBP20</text>
<text transform="translate(249.26 41.29) rotate(443.74)" text-anchor="end" dy="0.36em" fill="#303030" stroke="#303030">AcorOBP3</text>
<text transform="translate(258.30 40.49) rotate(446.15)" text-anchor="end" dy="0.36em" fill="#3f9a3f" stroke="#3f9a3f">HoblOBP3</text>
<text transform="translate(267.36 40.07) rotate(448.56)" text-anchor="end" dy="0.36em" fill="#303030" stroke="#303030">AcorOBP4</text>
<text transform="translate(276.43 40.03) rotate(270.96)" text-anchor="start" dy="0.36em" fill="#3f9a3f" stroke="#3f9a3f">HoblOBP4</text>
<text transform="translate(285.49 40.37) rotate(273.37)" text-anchor="start" dy="0.36em" fill="#3f9a3f" stroke="#3f9a3f">AmalOBP3</text>
<text transform="translate(294.53 41.10) rotate(275.77)" text-anchor="start" dy="0.36em" fill="#3f9a3f" stroke="#3f9a3f">HoblOBP1</text>
<text transform="translate(303.53 42.20) rotate(278.18)" text-anchor="start" dy="0.36em" fill="#3f9a3f" stroke="#3f9a3f">HparPBP1</text>
<text transform="translate(312.48 43.68) rotate(280.59)" text-anchor="start" dy="0.36em" fill="#303030" stroke="#303030">AcorOBP1</text>
<text transform="translate(321.36 45.53) rotate(282.99)" text-anchor="start" dy="0.36em" fill="#3f9a3f" stroke="#3f9a3f">AcutPBP</text>
<text transform="translate(330.15 47.75) rotate(285.40)" text-anchor="start" dy="0.36em" fill="#3f9a3f" stroke="#3f9a3f">PjapPBP</text>
<text transform="translate(338.84 50.34) rotate(287.80)" text-anchor="start" dy="0.36em" fill="#3f9a3f" stroke="#3f9a3f">PdivOBP1</text>
<text transform="translate(347.42 53.30) rotate(290.21)" text-anchor="start" dy="0.36em" fill="#3f9a3f" stroke="#3f9a3f">AcuiPBP</text>
<text transform="translate(355.86 56.61) rotate(292.62)" text-anchor="start" dy="0.36em" fill="#e8383a" stroke="#e8383a">HaxyOBP17</text>
<text transform="translate(364.16 60.27) rotate(295.02)" text-anchor="start" dy="0.36em" fill="#3a3acf" stroke="#3a3acf">TcasOBP5G</text>
<text transform="translate(372.30 64.28) rotate(297.43)" text-anchor="start" dy="0.36em" fill="#3a3acf" stroke="#3a3acf">TcasOBP5H</text>
<text transform="translate(380.26 68.63) rotate(299.83)" text-anchor="start" dy="0.36em" fill="#3a3acf" stroke="#3a3acf">TcasOBP5F</text>
<text transform="translate(388.03 73.30) rotate(302.24)" text-anchor="start" dy="0.36em" fill="#303030" stroke="#303030">PstrOBP9</text>
<text transform="translate(395.60 78.30) rotate(304.65)" text-anchor="start" dy="0.36em" fill="#3a3acf" stroke="#3a3acf">TcasOBP5C</text>
<text transform="translate(402.95 83.61) rotate(307.05)" text-anchor="start" dy="0.36em" fill="#303030" stroke="#303030">PstrOBP22</text>
<text transform="translate(410.07 89.23) rotate(309.46)" text-anchor="start" dy="0.36em" fill="#3a3acf" stroke="#3a3acf">TcasOBP5B</text>
<text transform="translate(416.95 95.14) rotate(311.86)" text-anchor="start" dy="0.36em" fill="#3a3acf" stroke="#3a3acf">TcasOBP5D</text>
<text transform="translate(423.58 101.33) rotate(314.27)" text-anchor="start" dy="0.36em" fill="#303030" stroke="#303030">PstrOBP11</text>
<text transform="translate(429.94 107.80) rotate(316.68)" text-anchor="start" dy="0.36em" fill="#303030" stroke="#303030">PstrOBP1</text>
<text transform="translate(436.02 114.52) rotate(319.08)" text-anchor="start" dy="0.36em" fill="#3a3acf" stroke="#3a3acf">TcasOBP5E</text>
<text transform="translate(441.82 121.50) rotate(321.49)" text-anchor="start" dy="0.36em" fill="#e8383a" stroke="#e8383a">HaxyOBP26</text>
<text transform="translate(447.31 128.72) rotate(323.89)" text-anchor="start" dy="0.36em" fill="#303030" stroke="#303030">AcorOBP13</text>
<text transform="translate(452.50 136.15) rotate(326.30)" text-anchor="start" dy="0.36em" fill="#303030" stroke="#303030">AcorOBP11</text>
<text transform="translate(457.37 143.80) rotate(328.71)" text-anchor="start" dy="0.36em" fill="#3a3acf" stroke="#3a3acf">TcasOBP7C</text>
<text transform="translate(461.92 151.65) rotate(331.11)" text-anchor="start" dy="0.36em" fill="#303030" stroke="#303030">PstrOBP18</text>
<text transform="translate(466.14 159.68) rotate(333.52)" text-anchor="start" dy="0.36em" fill="#e8383a" stroke="#e8383a">HaxyOBP2</text>
<text transform="translate(470.01 167.88) rotate(335.92)" text-anchor="start" dy="0.36em" fill="#303030" stroke="#303030">PstrOBP5</text>
<text transform="translate(473.53 176.24) rotate(338.33)" text-anchor="start" dy="0.36em" fill="#e8383a" stroke="#e8383a">HaxyOBP8</text>
<text transform="translate(476.71 184.74) rotate(340.74)" text-anchor="start" dy="0.36em" fill="#e8383a" stroke="#e8383a">HaxyOBP16</text>
<text transform="translate(479.52 193.36) rotate(343.14)" text-anchor="start" dy="0.36em" fill="#3a3acf" stroke="#3a3acf">TcasOBP6B</text>
<text transform="translate(481.97 202.09) rotate(345.55)" text-anchor="start" dy="0.36em" fill="#303030" stroke="#303030">PstrOBP14</text>
<text transform="translate(484.04 210.92) rotate(347.95)" text-anchor="start" dy="0.36em" fill="#3a3acf" stroke="#3a3acf">TcasOBP6D</text>
<text transform="translate(485.75 219.83) rotate(350.36)" text-anchor="start" dy="0.36em" fill="#e8383a" stroke="#e8383a">HaxyOBP7</text>
<text transform="translate(487.08 228.80) rotate(352.77)" text-anchor="start" dy="0.36em" fill="#3a3acf" stroke="#3a3acf">TcasOBP6E</text>
<text transform="translate(488.03 237.82) rotate(355.17)" text-anchor="start" dy="0.36em" fill="#3a3acf" stroke="#3a3acf">TcasOBP6C</text>
<text transform="translate(488.61 246.87) rotate(357.58)" text-anchor="start" dy="0.36em" fill="#3a3acf" stroke="#3a3acf">TcasOBP6F</text>
<text transform="translate(488.80 255.94) rotate(359.98)" text-anchor="start" dy="0.36em" fill="#303030" stroke="#303030">PstrOBP10</text>
<text transform="translate(488.61 265.01) rotate(2.39)" text-anchor="start" dy="0.36em" fill="#e8383a" stroke="#e8383a">HaxyOBP25</text>
<text transform="translate(488.04 274.06) rotate(4.80)" text-anchor="start" dy="0.36em" fill="#e8383a" stroke="#e8383a">HaxyOBP3</text>
<text transform="translate(487.10 283.08) rotate(7.20)" text-anchor="start" dy="0.36em" fill="#e8383a" stroke="#e8383a">HaxyOBP24</text>
<text transform="translate(485.77 292.05) rotate(9.61)" text-anchor="start" dy="0.36em" fill="#e8383a" stroke="#e8383a">HaxyOBP6</text>
<text transform="translate(484.07 300.96) rotate(12.01)" text-anchor="start" dy="0.36em" fill="#e8383a" stroke="#e8383a">HaxyOBP31</text>
<text transform="translate(482.00 309.79) rotate(14.42)" text-anchor="start" dy="0.36em" fill="#303030" stroke="#303030">PstrOBP24</text>
<text transform="translate(479.55 318.52) rotate(16.83)" text-anchor="start" dy="0.36em" fill="#3a3acf" stroke="#3a3acf">TcasOBP5A</text>
<text transform="translate(476.75 327.15) rotate(19.23)" text-anchor="start" dy="0.36em" fill="#e8383a" stroke="#e8383a">HaxyOBP18</text>
<text transform="translate(473.58 335.65) rotate(21.64)" text-anchor="start" dy="0.36em" fill="#3a3acf" stroke="#3a3acf">TcasOBP7L</text>
<text transform="translate(470.06 344.01) rotate(24.04)" text-anchor="start" dy="0.36em" fill="#3f9a3f" stroke="#3f9a3f">ApisOBP7</text>
<text transform="translate(466.19 352.21) rotate(26.45)" text-anchor="start" dy="0.36em" fill="#3a3acf" stroke="#3a3acf">TcasOBP7O</text>
<text transform="translate(461.98 360.24) rotate(28.86)" text-anchor="start" dy="0.36em" fill="#303030" stroke="#303030">AcorOBP10</text>
<text transform="translate(457.44 368.09) rotate(31.26)" text-anchor="start" dy="0.36em" fill="#3a3acf" stroke="#3a3acf">TcasOBP6A</text>
<text transform="translate(452.57 375.75) rotate(33.67)" text-anchor="start" dy="0.36em" fill="#e8383a" stroke="#e8383a">HaxyOBP1</text>
<text transform="translate(447.38 383.19) rotate(36.07)" text-anchor="start" dy="0.36em" fill="#3f9a3f" stroke="#3f9a3f">ApisOBP3</text>
<text transform="translate(441.89 390.40) rotate(38.48)" text-anchor="start" dy="0.36em" fill="#e8383a" stroke="#e8383a">HaxyOBP29</text>
<text transform="translate(436.10 397.38) rotate(40.89)" text-anchor="start" dy="0.36em" fill="#303030" stroke="#303030">PstrOBP21</text>
<text transform="translate(430.02 404.11) rotate(43.29)" text-anchor="start" dy="0.36em" fill="#3a3acf" stroke="#3a3acf">TcasOBP6G</text>
<text transform="translate(423.66 410.58) rotate(45.70)" text-anchor="start" dy="0.36em" fill="#303030" stroke="#303030">PstrOBP26</text>
<text transform="translate(417.04 416.78) rotate(48.10)" text-anchor="start" dy="0.36em" fill="#303030" stroke="#303030">AcorOBP5</text>
<text transform="translate(410.16 422.69) rotate(50.51)" text-anchor="start" dy="0.36em" fill="#3a3acf" stroke="#3a3acf">TcasOBP3A</text>
<text transform="translate(403.04 428.31) rotate(52.92)" text-anchor="start" dy="0.36em" fill="#303030" stroke="#303030">PstrOBP23</text>
<text transform="translate(395.70 433.63) rotate(55.32)" text-anchor="start" dy="0.36em" fill="#303030" stroke="#303030">PstrOBP30</text>
<text transform="translate(388.13 438.63) rotate(57.73)" text-anchor="start" dy="0.36em" fill="#303030" stroke="#303030">PstrOBP8</text>
<text transform="translate(380.36 443.31) rotate(60.13)" text-anchor="start" dy="0.36em" fill="#303030" stroke="#303030">PstrOBP16</text>
<text transform="translate(372.40 447.66) rotate(62.54)" text-anchor="start" dy="0.36em" fill="#3a3acf" stroke="#3a3acf">TcasOBP10C</text>
<text transform="translate(364.27 451.68) rotate(64.95)" text-anchor="start" dy="0.36em" fill="#3a3acf" stroke="#3a3acf">TcasOBP2A</text>
<text transform="translate(355.97 455.34) rotate(67.35)" text-anchor="start" dy="0.36em" fill="#3a3acf" stroke="#3a3acf">TcasOBP4H</text>
<text transform="translate(347.53 458.66) rotate(69.76)" text-anchor="start" dy="0.36em" fill="#3a3acf" stroke="#3a3acf">TcasOBP4G</text>
<text transform="translate(338.96 461.62) rotate(72.16)" text-anchor="start" dy="0.36em" fill="#3a3acf" stroke="#3a3acf">TcasOBP4I</text>
<text transform="translate(330.27 464.21) rotate(74.57)" text-anchor="start" dy="0.36em" fill="#3a3acf" stroke="#3a3acf">TcasOBP10A</text>
<text transform="translate(321.48 466.44) rotate(76.98)" text-anchor="start" dy="0.36em" fill="#3a3acf" stroke="#3a3acf">TcasOBP10B</text>
<text transform="translate(312.60 468.30) rotate(79.38)" text-anchor="start" dy="0.36em" fill="#3a3acf" stroke="#3a3acf">TcasOBP7G</text>
<text transform="translate(303.65 469.79) rotate(81.79)" text-anchor="start" dy="0.36em" fill="#3a3acf" stroke="#3a3acf">TcasOBP7M</text>
<text transform="translate(294.65 470.89) rotate(84.19)" text-anchor="start" dy="0.36em" fill="#303030" stroke="#303030">PstrOBP28</text>
<text transform="translate(285.61 471.62) rotate(86.60)" text-anchor="start" dy="0.36em" fill="#3a3acf" stroke="#3a3acf">TcasOBP10D</text>
<text transform="translate(276.55 471.97) rotate(89.01)" text-anchor="start" dy="0.36em" fill="#3a3acf" stroke="#3a3acf">TcasOBP7B</text>
<text transform="translate(267.48 471.93) rotate(271.41)" text-anchor="end" dy="0.36em" fill="#3a3acf" stroke="#3a3acf">TcasOBP7I</text>
<text transform="translate(258.42 471.52) rotate(273.82)" text-anchor="end" dy="0.36em" fill="#3a3acf" stroke="#3a3acf">TcasOBP7H</text>
<text transform="translate(249.38 470.73) rotate(276.22)" text-anchor="end" dy="0.36em" fill="#3a3acf" stroke="#3a3acf">TcasOBP7J</text>
<text transform="translate(240.39 469.55) rotate(278.63)" text-anchor="end" dy="0.36em" fill="#3a3acf" stroke="#3a3acf">TcasOBP7E</text>
<text transform="translate(231.45 468.01) rotate(281.04)" text-anchor="end" dy="0.36em" fill="#e8383a" stroke="#e8383a">HaxyOBP23</text>
<text transform="translate(222.59 466.08) rotate(283.44)" text-anchor="end" dy="0.36em" fill="#e8383a" stroke="#e8383a">HaxyOBP27</text>
<text transform="translate(213.81 463.79) rotate(285.85)" text-anchor="end" dy="0.36em" fill="#303030" stroke="#303030">PstrOBP32</text>
<text transform="translate(205.14 461.13) rotate(288.25)" text-anchor="end" dy="0.36em" fill="#303030" stroke="#303030">PstrOBP2</text>
<text transform="translate(196.59 458.11) rotate(290.66)" text-anchor="end" dy="0.36em" fill="#303030" stroke="#303030">PstrOBP29</text>
<text transform="translate(188.17 454.73) rotate(293.07)" text-anchor="end" dy="0.36em" fill="#303030" stroke="#303030">PstrOBP4</text>
<text transform="translate(179.90 451.00) rotate(295.47)" text-anchor="end" dy="0.36em" fill="#303030" stroke="#303030">PstrOBP25</text>
<text transform="translate(171.80 446.93) rotate(297.88)" text-anchor="end" dy="0.36em" fill="#303030" stroke="#303030">PstrOBP6</text>
<text transform="translate(163.87 442.52) rotate(300.28)" text-anchor="end" dy="0.36em" fill="#3f9a3f" stroke="#3f9a3f">BferOBP1768</text>
<text transform="translate(156.14 437.79) rotate(302.69)" text-anchor="end" dy="0.36em" fill="#3a3acf" stroke="#3a3acf">TcasOBP7A</text>
<text transform="translate(148.61 432.73) rotate(305.10)" text-anchor="end" dy="0.36em" fill="#303030" stroke="#303030">PstrOBP7</text>
<text transform="translate(141.30 427.36) rotate(307.50)" text-anchor="end" dy="0.36em" fill="#303030" stroke="#303030">AcorOBP2</text>
<text transform="translate(134.22 421.69) rotate(309.91)" text-anchor="end" dy="0.36em" fill="#303030" stroke="#303030">AcorOBP14</text>
<text transform="translate(127.39 415.72) rotate(312.31)" text-anchor="end" dy="0.36em" fill="#303030" stroke="#303030">AcorOBP9</text>
<text transform="translate(120.81 409.48) rotate(314.72)" text-anchor="end" dy="0.36em" fill="#303030" stroke="#303030">PstrOBP31</text>
<text transform="translate(114.50 402.96) rotate(317.13)" text-anchor="end" dy="0.36em" fill="#303030" stroke="#303030">PstrOBP13</text>
<text transform="translate(108.47 396.19) rotate(319.53)" text-anchor="end" dy="0.36em" fill="#3a3acf" stroke="#3a3acf">TcasOBP7F</text>
<text transform="translate(102.73 389.17) rotate(321.94)" text-anchor="end" dy="0.36em" fill="#e8383a" stroke="#e8383a">HaxyOBP12</text>
<text transform="translate(97.29 381.91) rotate(324.34)" text-anchor="end" dy="0.36em" fill="#3a3acf" stroke="#3a3acf">TcasOBP7K</text>
<text transform="translate(92.16 374.43) rotate(326.75)" text-anchor="end" dy="0.36em" fill="#e8383a" stroke="#e8383a">HaxyOBP19</text>
<text transform="translate(87.35 366.74) rotate(329.16)" text-anchor="end" dy="0.36em" fill="#303030" stroke="#303030">PstrOBP17</text>
<text transform="translate(82.86 358.86) rotate(331.56)" text-anchor="end" dy="0.36em" fill="#303030" stroke="#303030">PstrOBP27</text>
<text transform="translate(78.71 350.80) rotate(333.97)" text-anchor="end" dy="0.36em" fill="#3f9a3f" stroke="#3f9a3f">AmalOBP5</text>
<text transform="translate(74.90 342.57) rotate(336.37)" text-anchor="end" dy="0.36em" fill="#e8383a" stroke="#e8383a">HaxyOBP28</text>
<text transform="translate(71.45 334.18) rotate(338.78)" text-anchor="end" dy="0.36em" fill="#e8383a" stroke="#e8383a">HaxyOBP13</text>
<text transform="translate(68.34 325.66) rotate(341.19)" text-anchor="end" dy="0.36em" fill="#3a3acf" stroke="#3a3acf">TcasOBP9C</text>
<text transform="translate(65.60 317.01) rotate(343.59)" text-anchor="end" dy="0.36em" fill="#3f9a3f" stroke="#3f9a3f">HoblOBP13</text>
<text transform="translate(63.22 308.26) rotate(346.00)" text-anchor="end" dy="0.36em" fill="#e8383a" stroke="#e8383a">HaxyOBP9</text>
<text transform="translate(61.21 299.42) rotate(348.40)" text-anchor="end" dy="0.36em" fill="#e8383a" stroke="#e8383a">HaxyOBP5</text>
<text transform="translate(59.57 290.50) rotate(350.81)" text-anchor="end" dy="0.36em" fill="#e8383a" stroke="#e8383a">HaxyOBP4</text>
<text transform="translate(58.31 281.52) rotate(353.22)" text-anchor="end" dy="0.36em" fill="#3a3acf" stroke="#3a3acf">TcasOBP8A</text>
<text transform="translate(57.43 272.49) rotate(355.62)" text-anchor="end" dy="0.36em" fill="#e8383a" stroke="#e8383a">HaxyOBP15</text>
<path d="M467.85,79.14 A263.3,263.3 0 0 1 493.87,112.98" fill="none" stroke="#000" stroke-width="2.0"/>
<path d="M460.85,440.15 A263.2,263.2 0 0 1 12.16,292.63" fill="none" stroke="#000" stroke-width="2.0"/>
<text x="504.66" y="80.65" transform="rotate(52.90 504.66 80.65)" text-anchor="middle" dy="0.35em" font-weight="bold" font-size="12.5" fill="#111" letter-spacing="0">plus-C</text>
<text x="66.59" y="465.84" transform="rotate(224.50 66.59 465.84)" text-anchor="middle" dy="0.35em" font-weight="bold" font-size="12.5" fill="#111" letter-spacing="0">minus-C</text>
<text x="20.8" y="204.1" dy="0.5em" text-anchor="middle" font-size="15" font-weight="bold" fill="#e0202a">*</text>
<text x="212.5" y="505.4" dy="0.5em" text-anchor="middle" font-size="15" font-weight="bold" fill="#e0202a">*</text>
<line x1="262.6" y1="534.3" x2="282.9" y2="534.3" stroke="#555" stroke-width="1.4"/>
<text x="272.7" y="544" text-anchor="middle" font-size="9" fill="#333" letter-spacing="0">0.5</text>
</svg>
</body></html>
